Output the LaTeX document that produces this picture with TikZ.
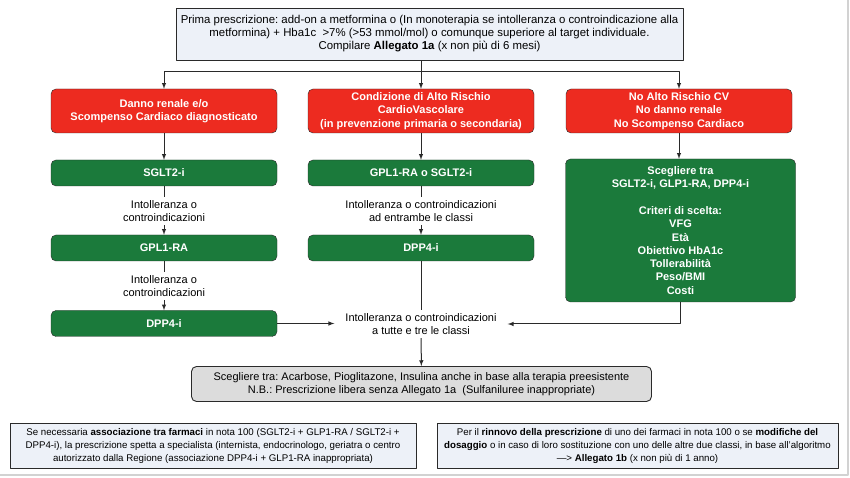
\documentclass[tikz,border=0pt]{standalone}
\usepackage{fontspec}
\setmainfont{Liberation Sans}
\definecolor{boxred}{HTML}{ED2B20}
\definecolor{boxgreen}{HTML}{1B7A3B}
\definecolor{notefill}{HTML}{EDF1F8}
\definecolor{greyfill}{HTML}{DCDCDC}
\definecolor{edge}{HTML}{2A2A2A}
\frenchspacing
\begin{document}
\begin{tikzpicture}[>=latex,line join=bevel,
  redbox/.style={draw=edge,fill=boxred,text=white,rounded corners=5bp,minimum width=226bp,minimum height=44bp,align=center,font=\fontsize{11bp}{13.2bp}\selectfont\bfseries},
  greenbox/.style={draw=edge,fill=boxgreen,text=white,rounded corners=5bp,minimum width=226bp,minimum height=26bp,align=center,font=\fontsize{11bp}{13.3bp}\selectfont\bfseries},
  notebox/.style={draw=edge,fill=notefill,align=center,line width=0.9bp,font=\fontsize{9.7bp}{13bp}\selectfont},
  plaintext/.style={align=center,font=\fontsize{11bp}{13bp}\selectfont},
  link/.style={edge,line width=1bp}]
\useasboundingbox (0bp,0bp) rectangle (850bp,478bp);
%% frame of the slide
\draw [gray!35,line width=1.5bp] (0bp,3bp) -- (848bp,3bp) -- (848bp,478bp);
%%
\node (start) at (429.5bp,444bp) [notebox,minimum width=507bp,minimum height=52bp,font=\fontsize{11.4bp}{13bp}\selectfont] {Prima prescrizione: add-on a metformina o (In monoterapia se intolleranza o controindicazione alla\\ metformina) + Hba1c\ \ >7\% (>53 mmol/mol) o comunque superiore al target individuale.\\ Compilare \textbf{Allegato 1a} (x non più di 6 mesi)};
  \coordinate (split) at (421bp,406bp);
  \node (renal) at (164bp,367bp) [redbox] {Danno renale e/o\\ Scompenso Cardiaco diagnosticato};
  \node (cvrisk) at (421bp,367bp) [redbox] {Condizione di Alto Rischio\\ CardioVascolare\\ (in prevenzione primaria o secondaria)};
  \node (norisk) at (679bp,367bp) [redbox] {No Alto Rischio CV\\ No danno renale\\ No Scompenso Cardiaco};
  \node (sglt2) at (164bp,305bp) [greenbox] {SGLT2-i};
  \node (gplsglt) at (421bp,305bp) [greenbox] {GPL1-RA o SGLT2-i};
  \node (choose) at (680.5bp,247.5bp) [greenbox,minimum width=230bp,minimum height=143bp] {Scegliere tra\\ SGLT2-i, GLP1-RA, DPP4-i\\[13.3bp] Criteri di scelta:\\ VFG\\ Età\\ Obiettivo HbA1c\\ Tollerabilità\\ Peso/BMI\\ Costi};
  \node (intolA) at (164bp,267bp) [plaintext] {Intolleranza o\\ controindicazioni};
  \node (gpl1) at (164bp,230bp) [greenbox] {GPL1-RA};
  \node (intolB) at (164bp,192bp) [plaintext] {Intolleranza o\\ controindicazioni};
  \node (dpp4left) at (164bp,154.5bp) [greenbox] {DPP4-i};
  \node (intolboth) at (421bp,267bp) [plaintext] {Intolleranza o controindicazioni\\ ad entrambe le classi};
  \node (dpp4mid) at (421bp,230bp) [greenbox] {DPP4-i};
  \node (intolall) at (421bp,154bp) [plaintext,inner xsep=11bp] {Intolleranza o controindicazioni\\ a tutte e tre le classi};
  \node (others) at (421.5bp,94bp) [notebox,fill=greyfill,rounded corners=5bp,minimum width=460bp,minimum height=35bp,font=\fontsize{11bp}{12.5bp}\selectfont] {Scegliere tra: Acarbose, Pioglitazone, Insulina anche in base alla terapia preesistente\\ N.B.: Prescrizione libera senza Allegato 1a\ \ (Sulfaniluree inappropriate)};
  \node (assoc) at (213bp,32bp) [notebox,minimum width=406bp,minimum height=45bp] {Se necessaria \textbf{associazione tra farmaci} in nota 100 (SGLT2-i + GLP1-RA / SGLT2-i +\\ DPP4-i), la prescrizione spetta a specialista (internista, endocrinologo, geriatra o centro\\ autorizzato dalla Regione (associazione DPP4-i + GLP1-RA inappropriata)};
  \node (renew) at (637.5bp,32bp) [notebox,minimum width=401bp,minimum height=45bp] {Per il \textbf{rinnovo della prescrizione} di uno dei farmaci in nota 100 o se \textbf{modifiche del}\\ \textbf{dosaggio} o in caso di loro sostituzione con uno delle altre due classi, in base all'algoritmo\\ \textemdash> \textbf{Allegato 1b} (x non più di 1 anno)};
  \draw [link] (start.south -| split) -- (split);
  \draw [link,->] (split) -| (renal);
  \draw [link,->] (split) -- (cvrisk);
  \draw [link,->] (split) -| (norisk);
  \draw [link,->] (renal) -- (sglt2);
  \draw [link,->] (cvrisk) -- (gplsglt);
  \draw [link,->] (norisk.south) -- (norisk.south |- choose.north);
  \draw [link] (sglt2) -- (intolA);
  \draw [link,->] (intolA) -- (gpl1);
  \draw [link] (gpl1) -- (intolB);
  \draw [link,->] (intolB) -- (dpp4left);
  \draw [link] (gplsglt) -- (intolboth);
  \draw [link,->] (intolboth) -- (dpp4mid);
  \draw [link] (dpp4mid) -- (intolall);
  \draw [link,->] (dpp4left.east) -- (dpp4left.east -| intolall.west);
  \draw [link,->] (choose.south) |- (intolall.east);
  \draw [link,->] (intolall) -- (others);
%
\end{tikzpicture}
\end{document}
